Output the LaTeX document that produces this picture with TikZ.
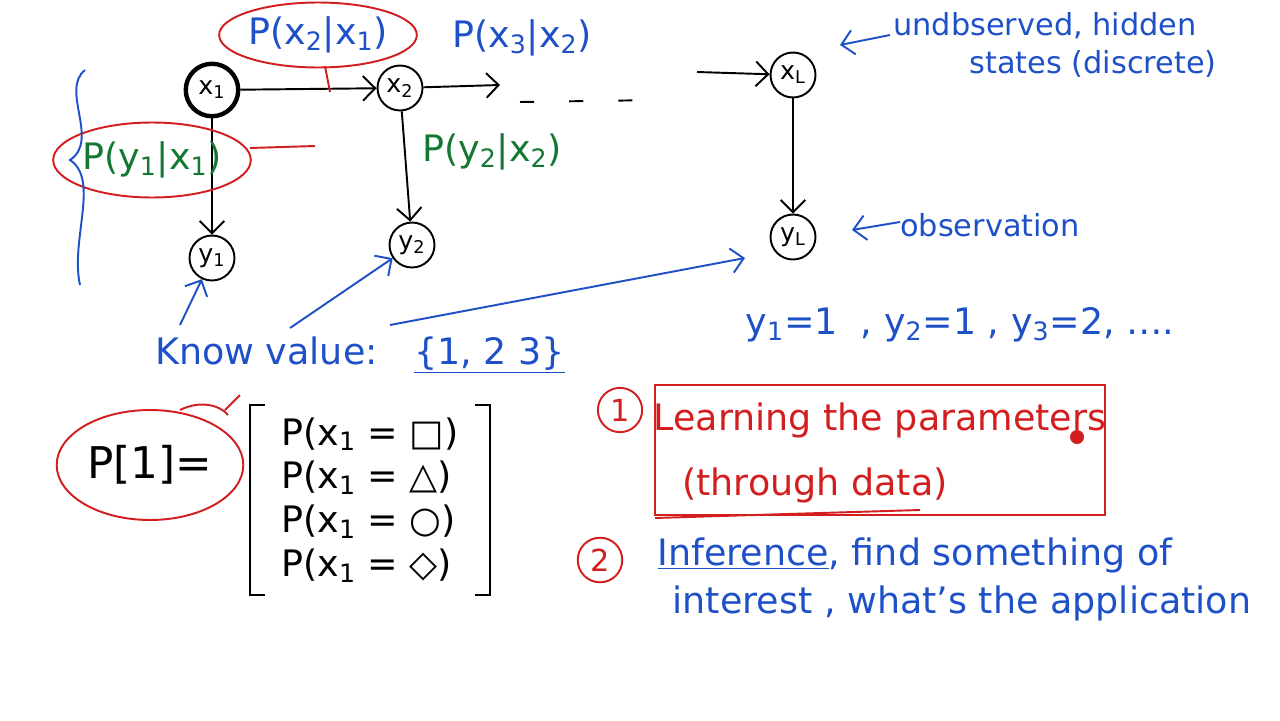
\documentclass[tikz,border=0pt]{standalone}
\usepackage{fontspec}
\setmainfont{DejaVu Sans}
\usetikzlibrary{arrows.meta,shapes.geometric}
\definecolor{hb}{RGB}{30,80,200}
\definecolor{hr}{RGB}{210,30,30}
\definecolor{hg}{RGB}{20,120,50}
\begin{document}
\begin{tikzpicture}[x=0.02cm,y=-0.02cm,line width=1.1pt,
  st/.style={circle,draw=black,line width=1.1pt,minimum size=0.9cm,inner sep=1pt,font=\Large},
  ar/.style={-{Straight Barb[length=7pt]},line width=1.1pt},
  bt/.style={text=hb,font=\huge},
  gt/.style={text=hg,font=\huge},
  rt/.style={text=hr,font=\huge}]
\useasboundingbox (0,0) rectangle (1280,720);
\fill[white] (0,0) rectangle (1280,720);
% nodes
\node[st,minimum size=1.05cm,line width=2.5pt] (x1) at (212,90) {x\textsubscript{1}};
\node[st] (x2) at (400,88) {x\textsubscript{2}};
\node[st] (xL) at (793,75) {x\textsubscript{L}};
\node[st] (y1) at (212,258) {y\textsubscript{1}};
\node[st] (y2) at (412,245) {y\textsubscript{2}};
\node[st] (yL) at (793,237) {y\textsubscript{L}};
\coordinate (x3e) at (500,85);
\coordinate (xLs) at (697,72);
\draw[ar] (x1) -- (x2);
\draw[ar] (x2) -- (x3e);
\draw[ar] (xLs) -- (xL);
\draw[dash pattern=on 8pt off 20pt] (520,102) -- (660,100);
\draw[ar] (x1) -- (y1);
\draw[ar] (x2) -- (y2);
\draw[ar] (xL) -- (yL);
% conditional labels
\node[draw=hr,ellipse,inner sep=0pt,text=hb,font=\huge,minimum width=3.8cm,minimum height=1.3cm] (p21) at (318,35) {P(x\textsubscript{2}|x\textsubscript{1})};
\draw[hr] (325,66) -- (330,92);
\node[bt] (p32) at (522,38) {P(x\textsubscript{3}|x\textsubscript{2})};
\node[draw=hr,ellipse,inner sep=0pt,gt,minimum width=3.4cm,minimum height=1.5cm] (py1) at (152,160) {P(y\textsubscript{1}|x\textsubscript{1})};
\draw[hr] (250,148) -- (315,146);
\node[gt] (py2) at (492,152) {P(y\textsubscript{2}|x\textsubscript{2})};
\draw[hb] (85,70) .. controls (60,90) and (100,140) .. (70,160) .. controls (100,180) and (70,240) .. (80,285);
% right labels
\node[bt,font=\LARGE,align=left] (uh) at (1055,45) {undbserved, hidden\\\hspace{2.5em}states (discrete)};
\draw[ar,hb] (890,35) -- (840,45);
\node[bt,font=\LARGE] (ob) at (990,225) {observation};
\draw[ar,hb] (900,222) -- (852,230);
% know value
\node[bt] (kv) at (360,355) {Know value:\hspace{1em}\underline{\{1, 2 3\}}};
\coordinate (a1) at (180,325); \coordinate (a2) at (290,328); \coordinate (a3) at (390,325);
\coordinate (a3e) at (745,258);
\draw[ar,hb] (a1) -- (y1);
\draw[ar,hb] (a2) -- (y2);
\draw[ar,hb] (a3) -- (a3e);
\node[bt] (yv) at (960,325) {y\textsubscript{1}=1 \ , y\textsubscript{2}=1 , y\textsubscript{3}=2, \dots .};
% P[1]
\node[draw=hr,ellipse,inner sep=2pt,font=\Huge,minimum width=3.5cm,minimum height=2.2cm] (pm) at (150,465) {P[1]=};
\draw[hr] (180,410) .. controls (200,400) and (220,405) .. (228,415);
\draw[hr] (225,410) -- (240,395);
\node[font=\huge,align=left] (mat) at (370,500) {P(x\textsubscript{1} = □)\\P(x\textsubscript{1} = △)\\P(x\textsubscript{1} = ○)\\P(x\textsubscript{1} = ◇)};
\draw (265,405) -- (250,405) -- (250,595) -- (265,595);
\draw (475,405) -- (490,405) -- (490,595) -- (475,595);
% learning
\node[draw=hr,circle,rt,font=\LARGE,inner sep=3pt] (n1) at (620,410) {1};
\node[draw=hr,rectangle,minimum width=9cm,minimum height=2.6cm] (lb) at (880,450) {};
\node[rt] (lt1) at (880,420) {Learning the parameters};
\node[rt] (lt2) at (815,485) {(through data)};
\draw[hr] (655,518) -- (920,510);
\fill[hr] (1077,437) circle (7);
\node[draw=hr,circle,rt,font=\LARGE,inner sep=3pt] (n2) at (600,560) {2};
\node[bt] (inf) at (915,555) {\underline{Inference}, find something of};
\node[bt] (inf2) at (962,603) {interest , what's the application};
\end{tikzpicture}
\end{document}
